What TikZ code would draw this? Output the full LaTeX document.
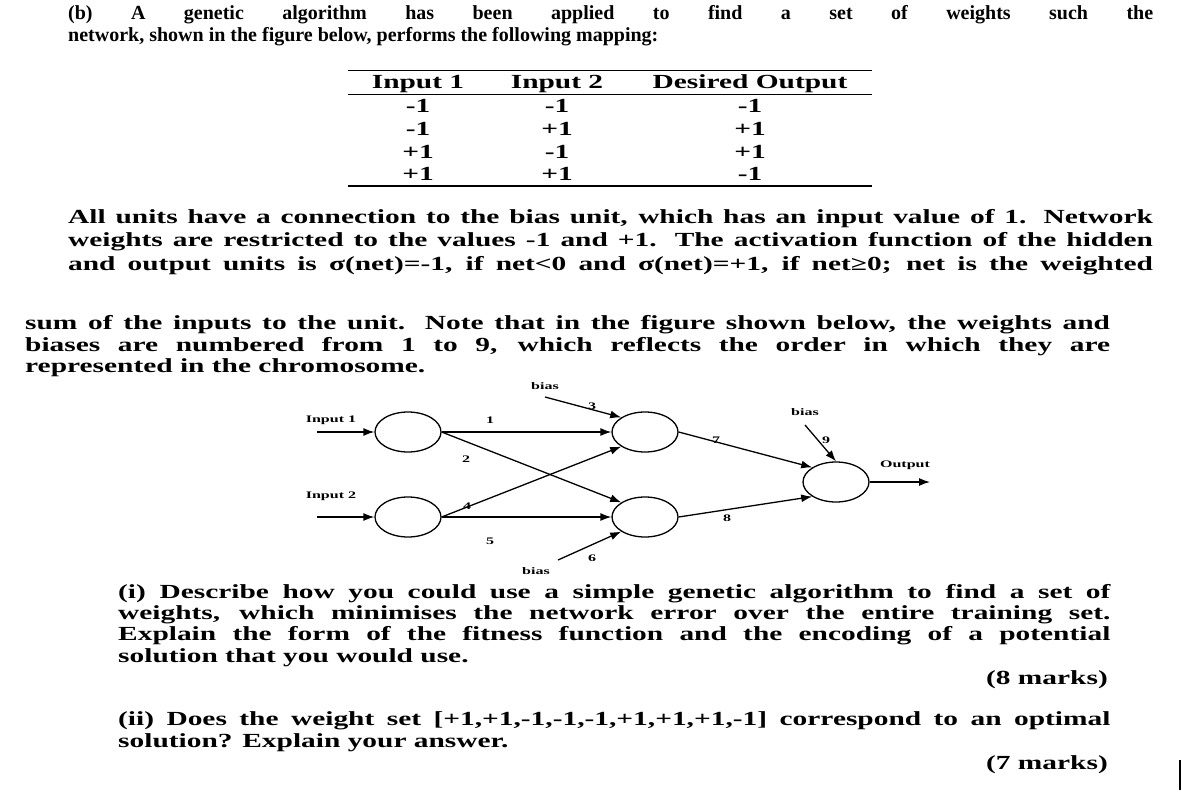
\documentclass[tikz,border=0pt]{standalone}
\usepackage{fontspec}
\usepackage{graphicx}
\setmainfont{Liberation Serif}
\usetikzlibrary{shapes.geometric,arrows.meta}
\newcommand\sx[1]{\scalebox{1.47}[1]{#1}}
\newcommand\jw[2]{\scalebox{1.47}[1]{\hbox to #1pt{#2}}}
\newcommand\lx[1]{\scalebox{1.6}[1]{#1}}
\begin{document}
\begin{tikzpicture}[x=1pt,y=-1pt,
  txt/.style={anchor=west,inner sep=0pt,font=\fontsize{20}{22}\selectfont\bfseries},
  tab/.style={inner sep=0pt,font=\fontsize{20}{22}\selectfont\bfseries},
  lab/.style={inner sep=0pt,font=\fontsize{10}{11}\selectfont\bfseries},
  unit/.style={draw,ellipse,minimum width=66pt,minimum height=40pt,line width=1.3pt},
  con/.style={-{Latex[length=11pt,width=8pt]},line width=1.3pt}]
\useasboundingbox (0,0) rectangle (1182,794);
% paragraph 1
\node[txt] (p1a) at (68,15) {\hbox to 1085pt{(b) A genetic algorithm has been applied to find a set of weights such the}};
\node[txt] (p1b) at (68,37) {network, shown in the figure below, performs the following mapping:};
% table
\draw[line width=1pt] (348,71) -- (872,71);
\draw[line width=1pt] (348,95) -- (872,95);
\draw[line width=1.8pt] (348,186) -- (872,186);
\node[tab] (h1) at (418,84) {\sx{Input 1}};
\node[tab] (h2) at (557,84) {\sx{Input 2}};
\node[tab] (h3) at (750,84) {\sx{Desired Output}};
\foreach \r/\a/\b/\c in {106/-1/-1/-1,129/-1/+1/+1,152/+1/-1/+1,174/+1/+1/-1}{
  \node[tab] (ra\r) at (418,\r) {\sx{\a}};
  \node[tab] (rb\r) at (557,\r) {\sx{\b}};
  \node[tab] (rc\r) at (750,\r) {\sx{\c}};}
% paragraph 2
\node[txt] (p2a) at (68,219) {\jw{738}{All units have a connection to the bias unit, which has an input value of 1. Network}};
\node[txt] (p2b) at (68,242) {\jw{738}{weights are restricted to the values -1 and +1. The activation function of the hidden}};
\node[txt] (p2c) at (68,266) {\jw{738}{and output units is σ(net)=-1, if net<0 and σ(net)=+1, if net≥0; net is the weighted}};
% paragraph 3
\node[txt] (p3a) at (25,325) {\jw{738}{sum of the inputs to the unit. Note that in the figure shown below, the weights and}};
\node[txt] (p3b) at (25,347) {\jw{738}{biases are numbered from 1 to 9, which reflects the order in which they are}};
\node[txt] (p3c) at (25,368) {\sx{represented in the chromosome.}};
% network
\node[unit] (i1) at (408,432) {};
\node[unit] (i2) at (408,517) {};
\node[unit] (h1n) at (645,432) {};
\node[unit] (h2n) at (645,517) {};
\node[unit] (o) at (836,482) {};
\coordinate (a1) at (317,432);
\coordinate (a2) at (317,517);
\coordinate (b1) at (545,397);
\coordinate (b2) at (558,560);
\coordinate (b3) at (805,425);
\coordinate (out) at (930,482);
\draw[con] (a1) -- (i1);
\draw[con] (a2) -- (i2);
\draw[con] (i1.east) -- (h1n.west);
\draw[con] (i1.east) -- (h2n.north west);
\draw[con] (i2.east) -- (h1n.south west);
\draw[con] (i2.east) -- (h2n.west);
\draw[con] (b1) -- (h1n.north west);
\draw[con] (b2) -- (h2n.south west);
\draw[con] (h1n.east) -- (o.north west);
\draw[con] (h2n.east) -- (o.south west);
\draw[con] (b3) -- (o.north);
\draw[con] (o.east) -- (out);
\node[lab] (l1) at (331,420) {\lx{Input 1}};
\node[lab] (l2) at (331,496) {\lx{Input 2}};
\node[lab] (lb1) at (545,386) {\lx{bias}};
\node[lab] (lb2) at (536,571) {\lx{bias}};
\node[lab] (lb3) at (805,412) {\lx{bias}};
\node[lab] (lo) at (905,465) {\lx{Output}};
\node[lab] (w1) at (490,420) {\lx{1}};
\node[lab] (w2) at (466,459) {\lx{2}};
\node[lab] (w3) at (592,406) {\lx{3}};
\node[lab] (w4) at (467,506) {\lx{4}};
\node[lab] (w5) at (490,541) {\lx{5}};
\node[lab] (w6) at (592,558) {\lx{6}};
\node[lab] (w7) at (716,440) {\lx{7}};
\node[lab] (w8) at (727,518) {\lx{8}};
\node[lab] (w9) at (826,440) {\lx{9}};
% questions
\node[txt] (q1a) at (118,594) {\jw{675}{(i) Describe how you could use a simple genetic algorithm to find a set of}};
\node[txt] (q1b) at (118,615) {\jw{675}{weights, which minimises the network error over the entire training set.}};
\node[txt] (q1c) at (118,636) {\jw{675}{Explain the form of the fitness function and the encoding of a potential}};
\node[txt] (q1d) at (118,658) {\sx{solution that you would use.}};
\node[txt,anchor=east] (m1) at (1108,680) {\sx{(8 marks)}};
\node[txt] (q2a) at (118,721) {\jw{675}{(ii) Does the weight set [+1,+1,-1,-1,-1,+1,+1,+1,-1] correspond to an optimal}};
\node[txt] (q2b) at (118,743) {\sx{solution? Explain your answer.}};
\node[txt,anchor=east] (m2) at (1108,765) {\sx{(7 marks)}};
\draw[line width=1.2pt] (1180,760) -- (1180,790);
\end{tikzpicture}
\end{document}
